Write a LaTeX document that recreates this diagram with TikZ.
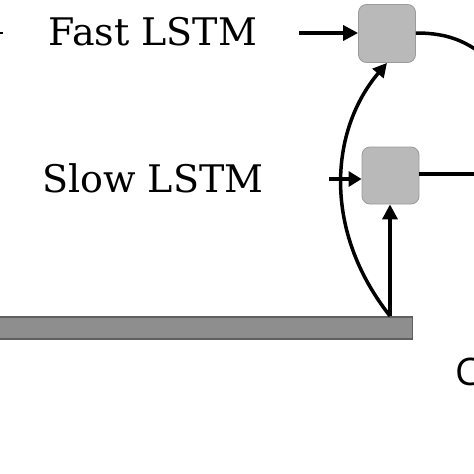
\documentclass[tikz,border=0pt]{standalone}
\usepackage{fontspec}
\setmainfont{DejaVu Serif}
\newfontfamily\labelsans{Open Sans}
\usetikzlibrary{arrows.meta}
\definecolor{boxfill}{HTML}{B9B9B9}
\definecolor{boxedge}{HTML}{9A9A9A}
\definecolor{barfill}{HTML}{8E8E8E}
\definecolor{baredge}{HTML}{606060}
\tikzset{
  cell/.style={draw=boxedge, fill=boxfill, line width=0.8pt, rounded corners=8pt, minimum width=57pt, minimum height=58pt, inner sep=0pt},
  conn/.style={line width=3.5pt, -{Triangle[length=15pt,width=15pt]}},
  plain/.style={line width=3.5pt},
  lbl/.style={font=\fontsize{38}{40}\selectfont, inner sep=0pt, anchor=base west},
}
\begin{document}
\begin{tikzpicture}[x=1pt,y=-1pt]
\useasboundingbox (0,0) rectangle (474,474);
\clip (0,0) rectangle (474,474);
\fill[white] (0,0) rectangle (474,474);
% bar
\node[draw=baredge, fill=barfill, line width=1.5pt, minimum width=430pt, minimum height=22pt, inner sep=0pt, anchor=north east] (bar) at (413,316) {};
\coordinate (root) at (390,316);
% cells
\node[cell] (fast) at (387,33.5) {};
\node[cell, minimum width=57pt, minimum height=57pt] (slow) at (390.5,175.5) {};
% labels
\node[lbl] (fastlbl) at (48,45) {Fast LSTM};
\node[lbl] (slowlbl) at (42,192) {Slow LSTM};
\node[font=\labelsans\fontsize{38}{40}\selectfont, inner sep=0pt, anchor=base west] (outlbl) at (455,385) {C};
% inputs
\coordinate (fastin) at (299,33);
\coordinate (slowin) at (329,179);
\draw[conn] (fastin) -- (fast.west |- fastin);
\draw[conn, -{Triangle[length=13pt,width=15pt]}] (slowin) -- (slow.west |- slowin);
% from bar
\draw[conn] (root) -- (slow.south -| root);
\draw[conn, -{Triangle[length=14pt,width=14pt]}] (root) .. controls (322,230) and (330,130) .. (fast.south);
% outputs
\coordinate (fastout) at (500,70);
\coordinate (slowout) at (480,174);
\draw[plain] (fast.east |- 0,33) .. controls (450,33) and (472,42) .. (fastout);
\draw[plain] (slow.east |- slowout) -- (slowout);
% tiny mark at left
\coordinate (leftmark) at (-2,33);
\coordinate (leftmarkend) at (2.5,33);
\draw[line width=2pt] (leftmark) -- (leftmarkend);
\end{tikzpicture}
\end{document}
